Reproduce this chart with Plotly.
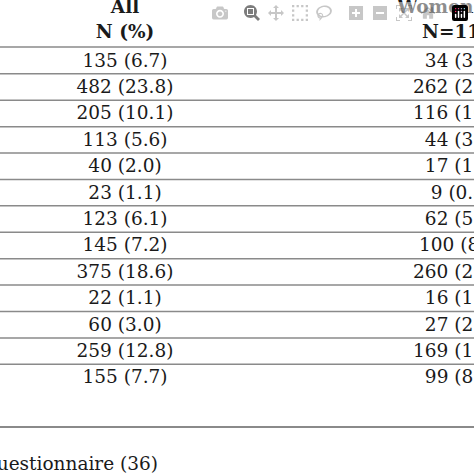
import plotly.graph_objects as go

all_vals = ["135 (6.7)", "482 (23.8)", "205 (10.1)", "113 (5.6)", "40 (2.0)", "23 (1.1)",
            "123 (6.1)", "145 (7.2)", "375 (18.6)", "22 (1.1)", "60 (3.0)", "259 (12.8)", "155 (7.7)"]
women_vals = ["34 (3.0)", "262 (23.2)", "116 (10.3)", "44 (3.9)", "17 (1.5)", "9 (0.8)",
              "62 (5.5)", "100 (8.8)", "260 (23.0)", "16 (1.4)", "27 (2.4)", "169 (15.0)", "99 (8.8)"]
header_all = ["All", "N (%)"]
header_women = ["Women", "N=1130"]
footnote = "Questionnaire (36)"

rows = list(range(len(all_vals)))
font = dict(family="DejaVu Serif", size=18.5, color="#1a1a1a")
bfont = dict(family="DejaVu Serif", size=18.5, color="#1a1a1a", weight="bold")

fig = go.Figure()
fig.add_trace(go.Scatter(x=[125]*len(rows), y=rows, text=all_vals, mode="text",
                         textposition="middle center", textfont=font))
fig.add_trace(go.Scatter(x=[461.5]*len(rows), y=rows, text=women_vals, mode="text",
                         textposition="middle center", textfont=font))
fig.add_trace(go.Scatter(x=[125, 125], y=[-2.05, -1.1], text=header_all, mode="text",
                         textposition="middle center", textfont=bfont))
fig.add_trace(go.Scatter(x=[397, 422], y=[-2.05, -1.1], text=header_women, mode="text",
                         textposition="middle right", textfont=bfont))
fig.add_trace(go.Scatter(x=[158], y=[15.27], text=[footnote], mode="text",
                         textposition="middle left", textfont=font))

for i in range(len(rows)):
    y = i - 0.55 if i > 0 else -0.57
    fig.add_shape(type="line", x0=0, x1=474, y0=y, y1=y, xref="x", yref="y",
                  line=dict(color="#8a8a8a", width=1.5))
fig.add_shape(type="line", x0=0, x1=474, y0=13.83, y1=13.83, xref="x", yref="y",
              line=dict(color="#8a8a8a", width=2))

fig.update_layout(width=474, height=474, margin=dict(l=0, r=0, t=0, b=0),
                  paper_bgcolor="white", plot_bgcolor="white", showlegend=False)
fig.update_xaxes(range=[0, 474], visible=False)
fig.update_yaxes(range=[15.606, -2.348], visible=False)
fig.write_html("out.html", post_script="document.body.style.margin='0';")
